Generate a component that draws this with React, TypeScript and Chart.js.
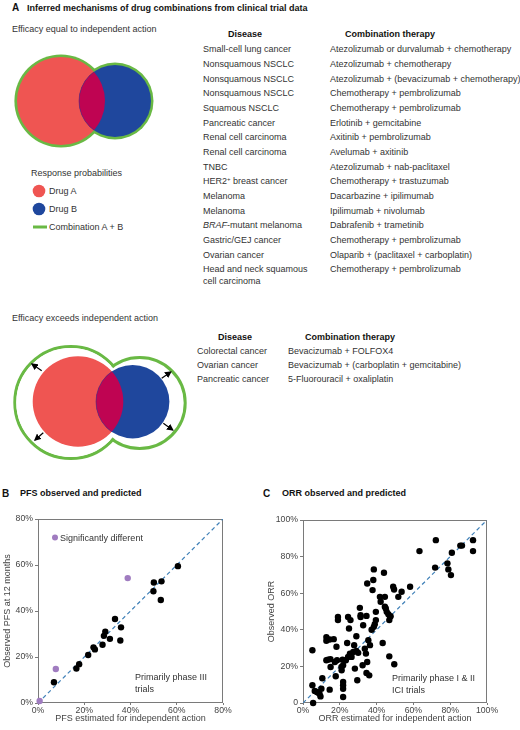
import React, { useEffect, useRef } from "react";
import { Chart, registerables } from "chart.js";

Chart.register(...registerables);

const FONT = '"Liberation Sans", Arial, Helvetica, sans-serif';
const TEXT = "#333333";

// ---------- Panel A table data ----------
const diseasesEqual = [
  "Small-cell lung cancer",
  "Nonsquamous NSCLC",
  "Nonsquamous NSCLC",
  "Nonsquamous NSCLC",
  "Squamous NSCLC",
  "Pancreatic cancer",
  "Renal cell carcinoma",
  "Renal cell carcinoma",
  "TNBC",
  "HER2+ breast cancer",
  "Melanoma",
  "Melanoma",
  "BRAF-mutant melanoma",
  "Gastric/GEJ cancer",
  "Ovarian cancer",
  "Head and neck squamous\ncell carcinoma",
];
const therapiesEqual = [
  "Atezolizumab or durvalumab + chemotherapy",
  "Atezolizumab + chemotherapy",
  "Atezolizumab + (bevacizumab + chemotherapy)",
  "Chemotherapy + pembrolizumab",
  "Chemotherapy + pembrolizumab",
  "Erlotinib + gemcitabine",
  "Axitinib + pembrolizumab",
  "Avelumab + axitinib",
  "Atezolizumab + nab-paclitaxel",
  "Chemotherapy + trastuzumab",
  "Dacarbazine + ipilimumab",
  "Ipilimumab + nivolumab",
  "Dabrafenib + trametinib",
  "Chemotherapy + pembrolizumab",
  "Olaparib + (paclitaxel + carboplatin)",
  "Chemotherapy + pembrolizumab",
];
const diseasesExceed = ["Colorectal cancer", "Ovarian cancer", "Pancreatic cancer"];
const therapiesExceed = [
  "Bevacizumab + FOLFOX4",
  "Bevacizumab + (carboplatin + gemcitabine)",
  "5-Fluorouracil + oxaliplatin",
];

// ---------- Panel B data (PFS at 12 months, %) ----------
const pfsPredicted = [6.9, 16.6, 17.8, 21.7, 24.0, 24.6, 27.9, 28.5, 29.1, 31.1, 33.3, 35.9, 35.6, 49.9, 50.1, 53.4, 53.1, 60.5];
const pfsObserved = [9.0, 15.0, 16.9, 20.9, 24.2, 23.3, 25.3, 29.2, 31.0, 27.9, 36.5, 32.9, 27.2, 48.6, 52.4, 52.9, 44.8, 59.5];
const sigPredicted = [0.7, 7.7, 38.8];
const sigObserved = [0.9, 14.8, 54.3];
const pfsTicks = [0, 20, 40, 60, 80];

// ---------- Panel C data (ORR, %) ----------
const orrPredicted = [
  5.1, 5.1, 5.5, 6.4, 7.5, 8.2, 9.0, 9.5, 10.0, 10.5,
  12.7, 12.7, 14.5, 16.7, 12.7, 13.6, 14.9, 14.5, 15.0, 17.3,
  18.2, 19.0, 19.0, 18.5, 17.8, 20.9, 21.0, 21.8, 21.8, 21.8,
  21.8, 21.8, 21.5, 23.3, 24.0, 24.5, 25.0, 25.8, 24.5, 25.5,
  26.4, 27.3, 27.8, 28.2, 29.0, 29.0, 29.5, 30.0, 30.9, 31.3,
  31.3, 32.4, 32.7, 33.6, 34.2, 34.5, 34.9, 34.9, 34.5, 35.5,
  36.0, 36.4, 37.3, 37.8, 38.2, 38.5, 38.5, 39.0, 39.6, 39.6,
  41.8, 42.2, 43.3, 44.0, 44.5, 44.5, 45.0, 45.5, 46.4, 46.9,
  47.3, 47.6, 46.9, 49.0, 49.5, 49.6, 51.8, 53.6, 58.2, 63.3,
  71.8, 72.2, 78.5, 79.0, 80.4, 80.9, 85.5, 86.4, 92.4, 92.4,
];
const orrObserved = [
  28.8, 9.7, 0.0, 6.6, 6.0, 5.7, 5.0, 3.6, 7.8, 13.5,
  36.0, 34.0, 34.7, 34.9, 23.4, 23.7, 24.0, 7.3, 19.7, 22.4,
  30.7, 47.0, 45.3, 23.4, 14.6, 19.7, 17.9, 20.6, 11.5, 9.7,
  7.8, 3.3, 23.7, 23.4, 32.8, 47.0, 40.7, 45.3, 25.2, 27.0,
  25.2, 27.9, 31.6, 18.8, 36.5, 28.5, 12.4, 27.4, 52.0, 48.0,
  47.0, 20.6, 42.5, 29.7, 27.0, 47.6, 22.4, 65.3, 16.4, 34.3,
  15.1, 31.6, 40.0, 61.7, 67.2, 73.0, 41.6, 43.0, 45.3, 49.8,
  58.0, 55.3, 32.8, 71.2, 58.0, 52.6, 51.6, 49.8, 48.5, 45.3,
  47.1, 47.4, 25.5, 63.5, 62.0, 21.2, 58.0, 60.8, 63.5, 83.0,
  74.0, 89.0, 76.3, 73.0, 69.9, 82.1, 86.0, 86.0, 89.0, 83.0,
];
const orrTicks = [0, 20, 40, 60, 80, 100];

const boxPlugin = {
  id: "plotBox",
  beforeDatasetsDraw(chart: any) {
    const { ctx, chartArea: a } = chart;
    ctx.save();
    ctx.strokeStyle = "#7a7a7a";
    ctx.lineWidth = 1;
    ctx.strokeRect(Math.round(a.left) + 0.5, Math.round(a.top) + 0.5, Math.round(a.right - a.left) - 1, Math.round(a.bottom - a.top) - 1);
    ctx.restore();
  },
};

type Series = { xs: number[]; ys: number[]; color: string };

type ScatterProps = {
  left: number;
  top: number;
  width: number;
  height: number;
  axisWidth: number;
  padRight: number;
  padTop: number;
  yTitle: string;
  xTitle: string;
  yTitlePad: number;
  ticks: number[];
  zeroLabel: string;
  series: Series[];
};

function ScatterPanel(p: ScatterProps) {
  const ref = useRef<HTMLCanvasElement | null>(null);
  useEffect(() => {
    if (!ref.current) return;
    const max = p.ticks[p.ticks.length - 1];
    const tickFont = { family: FONT, size: 8.7 };
    const titleFont = { family: FONT, size: 9 };
    const datasets: any[] = [
      {
        data: [
          { x: 0, y: 0 },
          { x: max, y: max },
        ],
        showLine: true,
        borderColor: "#3f80b8",
        borderWidth: 1.2,
        borderDash: [4, 3],
        pointRadius: 0,
        order: 5,
      },
    ];
    p.series.forEach((s, k) => {
      datasets.push({
        data: s.xs.map((x, i) => ({ x, y: s.ys[i] })),
        backgroundColor: s.color,
        borderColor: s.color,
        borderWidth: 0,
        pointRadius: 3.2,
        clip: false,
        order: 1 + k,
      });
    });
    const chart = new Chart(ref.current, {
      type: "scatter",
      data: { datasets },
      plugins: [boxPlugin],
      options: {
        responsive: false,
        animation: false,
        layout: { padding: { left: 0, top: p.padTop, right: p.padRight, bottom: 0 } },
        plugins: { legend: { display: false }, tooltip: { enabled: false } },
        scales: {
          x: {
            type: "linear",
            min: 0,
            max,
            afterBuildTicks: (s: any) => {
              s.ticks = p.ticks.map((v) => ({ value: v }));
            },
            afterFit: (s: any) => {
              s.height = 27;
            },
            border: { display: false },
            grid: { drawOnChartArea: false, drawTicks: true, tickLength: 2, color: "#7a7a7a" },
            ticks: {
              color: "#444",
              font: tickFont,
              padding: 0,
              maxRotation: 0,
              autoSkip: false,
              callback: (v: any) => v + "%",
            },
            title: {
              display: true,
              text: p.xTitle,
              color: "#444",
              font: titleFont,
              padding: { top: 0, bottom: 6 },
            },
          },
          y: {
            type: "linear",
            min: 0,
            max,
            afterBuildTicks: (s: any) => {
              s.ticks = p.ticks.map((v) => ({ value: v }));
            },
            afterFit: (s: any) => {
              s.width = p.axisWidth;
            },
            border: { display: false },
            grid: { drawOnChartArea: false, drawTicks: true, tickLength: 3, color: "#7a7a7a" },
            ticks: {
              color: "#444",
              font: tickFont,
              padding: 2,
              autoSkip: false,
              callback: (v: any) => (v === 0 ? p.zeroLabel : v + "%"),
            },
            title: {
              display: true,
              text: p.yTitle,
              color: "#444",
              font: titleFont,
              padding: { top: p.yTitlePad, bottom: 0 },
            },
          },
        },
      } as any,
    });
    return () => chart.destroy();
  }, []);
  return (
    <canvas
      ref={ref}
      width={p.width}
      height={p.height}
      style={{ position: "absolute", left: p.left, top: p.top, width: p.width, height: p.height }}
    />
  );
}

function T(props: {
  x: number;
  y: number;
  children: React.ReactNode;
  bold?: boolean;
  center?: boolean;
  size?: number;
  color?: string;
}) {
  const size = props.size ?? 9;
  const lh = Math.round(size * 1.3);
  return (
    <div
      style={{
        position: "absolute",
        left: props.x,
        top: props.y - lh / 2,
        fontSize: size,
        lineHeight: lh + "px",
        fontWeight: props.bold ? "bold" : "normal",
        whiteSpace: "nowrap",
        color: props.color ?? TEXT,
        fontFamily: FONT,
        transform: props.center ? "translateX(-50%)" : undefined,
      }}
    >
      {props.children}
    </div>
  );
}

function renderDisease(d: string) {
  if (d.startsWith("HER2+")) {
    return (
      <>
        HER2<span style={{ fontSize: 6, position: "relative", top: -3 }}>+</span>
        {d.slice(5)}
      </>
    );
  }
  if (d.startsWith("BRAF")) {
    return (
      <>
        <i>BRAF</i>
        {d.slice(4)}
      </>
    );
  }
  return d;
}

const RED = "#ef5552";
const BLUE = "#1f479d";
const LENS = "#bf0452";
const GREEN = "#69b944";

export default function App() {
  const rowStart = 49.3;
  const rowStep = 14.67;
  return (
    <div
      style={{
        position: "absolute",
        left: 0,
        top: 0,
        width: 520,
        height: 730,
        background: "#fff",
        fontFamily: FONT,
        overflow: "hidden",
      }}
    >
      <svg width={520} height={730} style={{ position: "absolute", left: 0, top: 0 }}>
        <defs>
          <clipPath id="redClip1">
            <circle cx={61} cy={101} r={44} />
          </clipPath>
          <clipPath id="redClip2">
            <circle cx={78} cy={401.5} r={45.3} />
          </clipPath>
          <marker id="arrowHead" viewBox="0 0 10 10" refX="8" refY="5" markerWidth="7" markerHeight="7" markerUnits="userSpaceOnUse" orient="auto">
            <path d="M0,0 L10,5 L0,10 z" fill="#000" />
          </marker>
        </defs>
        {/* Venn 1: efficacy equal to independent action */}
        <circle cx={61} cy={101} r={46.6} fill={GREEN} />
        <circle cx={115} cy={101} r={38.5} fill={GREEN} />
        <circle cx={61} cy={101} r={44} fill={RED} />
        <circle cx={115} cy={101} r={36} fill={BLUE} />
        <circle cx={115} cy={101} r={36} fill={LENS} clipPath="url(#redClip1)" />
        <circle cx={115} cy={101} r={36} fill="none" stroke="#5a2a7a" strokeWidth={0.6} clipPath="url(#redClip1)" />

        {/* Legend */}
        <circle cx={39} cy={191} r={6.3} fill={RED} />
        <circle cx={39} cy={209} r={6.3} fill={BLUE} />
        <line x1={33} y1={227} x2={47} y2={227} stroke={GREEN} strokeWidth={3} />

        {/* Venn 2: efficacy exceeds independent action */}
        <circle cx={70.8} cy={402.5} r={56} fill="#fff" stroke={GREEN} strokeWidth={3} />
        <circle cx={139.7} cy={403} r={45.5} fill="#fff" stroke={GREEN} strokeWidth={3} />
        <circle cx={70.8} cy={402.5} r={54.5} fill="#fff" />
        <circle cx={78} cy={401.5} r={45.3} fill={RED} />
        <circle cx={132.7} cy={401.7} r={36.7} fill={BLUE} />
        <circle cx={132.7} cy={401.7} r={36.7} fill={LENS} clipPath="url(#redClip2)" />
        <circle cx={132.7} cy={401.7} r={36.7} fill="none" stroke="#5a2a7a" strokeWidth={0.6} clipPath="url(#redClip2)" />
        <line x1={41.7} y1={370.7} x2={32} y2={364} stroke="#000" strokeWidth={1.2} markerEnd="url(#arrowHead)" />
        <line x1={43.3} y1={432.7} x2={35} y2={440} stroke="#000" strokeWidth={1.2} markerEnd="url(#arrowHead)" />
        <line x1={161.7} y1={378.3} x2={170.7} y2={372} stroke="#000" strokeWidth={1.2} markerEnd="url(#arrowHead)" />
        <line x1={163.3} y1={423.3} x2={172.7} y2={430} stroke="#000" strokeWidth={1.2} markerEnd="url(#arrowHead)" />

        {/* Significantly different marker (legend) */}
        <circle cx={55} cy={537.5} r={3} fill="#a07cc0" />
      </svg>

      {/* Panel A texts */}
      <T x={12} y={7.5} bold size={10} color="#111">A</T>
      <T x={27} y={7.5} bold color="#111">Inferred mechanisms of drug combinations from clinical trial data</T>
      <T x={12} y={28.5}>Efficacy equal to independent action</T>
      <T x={245} y={34} bold center color="#111">Disease</T>
      <T x={390} y={34} bold center color="#111">Combination therapy</T>
      {diseasesEqual.map((d, i) => {
        const y = rowStart + i * rowStep;
        const lines = d.split("\n");
        return lines.map((ln, j) => (
          <T key={"d" + i + "_" + j} x={203} y={y + j * 11.5}>
            {renderDisease(ln)}
          </T>
        ));
      })}
      {therapiesEqual.map((t, i) => (
        <T key={"t" + i} x={330} y={rowStart + i * rowStep}>
          {t}
        </T>
      ))}

      <T x={31} y={173.3}>Response probabilities</T>
      <T x={49} y={191}>Drug A</T>
      <T x={49} y={209}>Drug B</T>
      <T x={49} y={227}>Combination A + B</T>

      <T x={12} y={318}>Efficacy exceeds independent action</T>
      <T x={235} y={337} bold center color="#111">Disease</T>
      <T x={350} y={337} bold center color="#111">Combination therapy</T>
      {diseasesExceed.map((d, i) => (
        <T key={"de" + i} x={197} y={351 + i * 14}>
          {d}
        </T>
      ))}
      {therapiesExceed.map((t, i) => (
        <T key={"te" + i} x={288} y={351 + i * 14}>
          {t}
        </T>
      ))}

      {/* Panel B / C titles */}
      <T x={2} y={493} bold size={10} color="#111">B</T>
      <T x={20} y={493} bold color="#111">PFS observed and predicted</T>
      <T x={263} y={493} bold size={10} color="#111">C</T>
      <T x={282} y={493} bold color="#111">ORR observed and predicted</T>

      <ScatterPanel
        left={0}
        top={505}
        width={260}
        height={225}
        axisWidth={38}
        padRight={37}
        padTop={14}
        yTitle="Observed PFS at 12 months"
        xTitle="PFS estimated for independent action"
        yTitlePad={2}
        ticks={pfsTicks}
        zeroLabel="0%"
        series={[
          { xs: pfsPredicted, ys: pfsObserved, color: "#000000" },
          { xs: sigPredicted, ys: sigObserved, color: "#a07cc0" },
        ]}
      />
      <ScatterPanel
        left={260}
        top={505}
        width={260}
        height={225}
        axisWidth={43}
        padRight={33}
        padTop={15}
        yTitle="Observed ORR"
        xTitle="ORR estimated for independent action"
        yTitlePad={6}
        ticks={orrTicks}
        zeroLabel="0"
        series={[{ xs: orrPredicted, ys: orrObserved, color: "#000000" }]}
      />

      {/* overlay annotations */}
      <T x={60} y={537.5}>Significantly different</T>
      <T x={135} y={677}>Primarily phase III</T>
      <T x={135} y={689}>trials</T>
      <T x={392} y={678}>Primarily phase I &amp; II</T>
      <T x={392} y={690}>ICI trials</T>
    </div>
  );
}
